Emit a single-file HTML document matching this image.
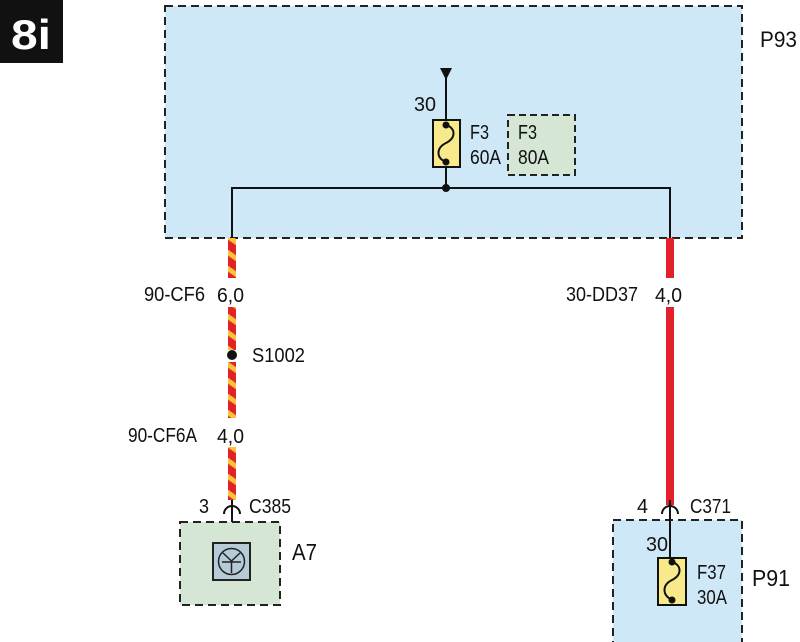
<!DOCTYPE html>
<html><head><meta charset="utf-8"><style>
html,body{margin:0;padding:0;background:#fff;width:800px;height:642px;overflow:hidden}
text{font-family:"Liberation Sans Narrow","Liberation Sans",sans-serif;font-size:20px;fill:#111}
</style></head><body>
<svg width="800" height="642" viewBox="0 0 800 642" xmlns="http://www.w3.org/2000/svg">
<defs>
<pattern id="st" patternUnits="userSpaceOnUse" width="8" height="16" patternTransform="skewY(35)">
<rect width="8" height="16" fill="#e4202a"/><rect y="10" width="8" height="6" fill="#f5c53a"/>
</pattern>
</defs>
<rect x="0" y="0" width="63" height="63" fill="#111"/>
<text x="31" y="49" style="fill:#fff;font-size:42px;font-weight:bold" text-anchor="middle" textLength="40" lengthAdjust="spacingAndGlyphs">8i</text>
<!-- P93 -->
<rect x="165" y="6" width="577" height="232" fill="#cfe8f8" stroke="#222" stroke-width="2" stroke-dasharray="8,5"/>
<text x="760" y="47" style="font-size:22px" textLength="37" lengthAdjust="spacingAndGlyphs">P93</text>
<rect x="508" y="115" width="67" height="60" fill="#d5e6d5" stroke="#222" stroke-width="2" stroke-dasharray="7,4"/>
<text x="518" y="139" textLength="19" lengthAdjust="spacingAndGlyphs">F3</text><text x="518" y="164" textLength="31" lengthAdjust="spacingAndGlyphs">80A</text>
<polygon points="440,68 452,68 446,80" fill="#111"/>
<line x1="446" y1="70" x2="446" y2="188" stroke="#111" stroke-width="2"/>
<rect x="433" y="120" width="27" height="47" fill="#f8e98a" stroke="#111" stroke-width="2"/>
<path d="M446,125 C456,128 456,138 446,143 C436,148 436,158 446,162" fill="none" stroke="#111" stroke-width="2"/>
<circle cx="446" cy="125" r="3.5" fill="#111"/><circle cx="446" cy="162" r="3.5" fill="#111"/>
<circle cx="446" cy="188" r="4" fill="#111"/>
<text x="414" y="111" textLength="22" lengthAdjust="spacingAndGlyphs">30</text>
<text x="470" y="139" textLength="19" lengthAdjust="spacingAndGlyphs">F3</text><text x="470" y="164" textLength="31" lengthAdjust="spacingAndGlyphs">60A</text>
<polyline points="232,238 232,188 670,188 670,238" fill="none" stroke="#111" stroke-width="2"/>
<!-- left wire -->
<g fill="url(#st)">
<rect x="228" y="238" width="8" height="40"/>
<rect x="228" y="307" width="8" height="43"/>
<rect x="228" y="362" width="8" height="56"/>
<rect x="228" y="447" width="8" height="53"/>
</g>
<circle cx="232" cy="355" r="5" fill="#111"/>
<text x="144" y="301" textLength="61" lengthAdjust="spacingAndGlyphs">90-CF6</text><text x="217" y="302" textLength="27" lengthAdjust="spacingAndGlyphs">6,0</text>
<text x="252" y="362" textLength="53" lengthAdjust="spacingAndGlyphs">S1002</text>
<text x="128" y="442" textLength="69" lengthAdjust="spacingAndGlyphs">90-CF6A</text><text x="217" y="443" textLength="27" lengthAdjust="spacingAndGlyphs">4,0</text>
<!-- right wire -->
<rect x="666" y="238" width="8" height="40" fill="#e4202a"/>
<rect x="666" y="307" width="8" height="198" fill="#e4202a"/>
<text x="566" y="301" textLength="72" lengthAdjust="spacingAndGlyphs">30-DD37</text><text x="655" y="302" textLength="27" lengthAdjust="spacingAndGlyphs">4,0</text>
<!-- C385 / A7 -->
<path d="M224,514 A8,8 0 0 1 240,514" fill="none" stroke="#111" stroke-width="2"/>
<line x1="232" y1="500" x2="232" y2="506" stroke="#111" stroke-width="2"/>
<line x1="232" y1="506" x2="232" y2="522" stroke="#111" stroke-width="2"/>
<text x="199" y="513" textLength="10" lengthAdjust="spacingAndGlyphs">3</text><text x="249" y="513" textLength="42" lengthAdjust="spacingAndGlyphs">C385</text>
<rect x="180" y="522" width="100" height="83" fill="#d5e6d5" stroke="#222" stroke-width="2" stroke-dasharray="8,5"/>
<rect x="213" y="543" width="37" height="37" fill="#b6cbd8" stroke="#222" stroke-width="2"/>
<circle cx="231.5" cy="561.5" r="13" fill="none" stroke="#222" stroke-width="1.5"/>
<path d="M223,553 L231.5,561 L240,553 M222,562 H241 M231.5,562 V573" fill="none" stroke="#222" stroke-width="1.5"/>
<text x="292" y="560" style="font-size:23px" textLength="25" lengthAdjust="spacingAndGlyphs">A7</text>
<!-- C371 / P91 -->
<rect x="613" y="520" width="129" height="124" fill="#cfe8f8" stroke="#222" stroke-width="2" stroke-dasharray="8,5"/>
<path d="M662,514 A8,8 0 0 1 678,514" fill="none" stroke="#111" stroke-width="2"/>
<line x1="670" y1="500" x2="670" y2="506" stroke="#111" stroke-width="2"/>
<line x1="670" y1="506" x2="670" y2="560" stroke="#111" stroke-width="2"/>
<text x="637" y="513" textLength="11" lengthAdjust="spacingAndGlyphs">4</text><text x="690" y="513" textLength="41" lengthAdjust="spacingAndGlyphs">C371</text>
<text x="646" y="551" textLength="22" lengthAdjust="spacingAndGlyphs">30</text>
<rect x="658" y="558" width="28" height="47" fill="#f8e98a" stroke="#111" stroke-width="2"/>
<path d="M672,562 C682,565 682,575 672,580 C662,585 662,595 672,600" fill="none" stroke="#111" stroke-width="2"/>
<circle cx="672" cy="562" r="3.5" fill="#111"/><circle cx="672" cy="600" r="3.5" fill="#111"/>
<text x="697" y="579" textLength="29" lengthAdjust="spacingAndGlyphs">F37</text><text x="697" y="604" textLength="30" lengthAdjust="spacingAndGlyphs">30A</text>
<text x="752" y="586" style="font-size:23px" textLength="38" lengthAdjust="spacingAndGlyphs">P91</text>
</svg>
</body></html>
